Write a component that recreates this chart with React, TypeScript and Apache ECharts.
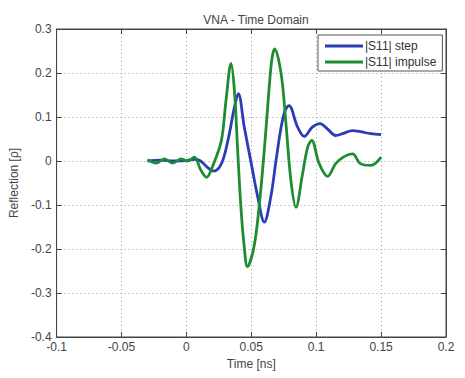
import React, { useEffect, useRef } from "react";
import * as echarts from "echarts";

const title = "VNA - Time Domain";
const xTicks = [-0.1, -0.05, 0, 0.05, 0.1, 0.15, 0.2];
const yTicks = [-0.4, -0.3, -0.2, -0.1, 0, 0.1, 0.2, 0.3];
const seriesNames = ["|S11| step", "|S11| impulse"];

const stepT = [-0.03, -0.02, -0.01, 0, 0.006, 0.011, 0.016, 0.021, 0.027, 0.032, 0.037, 0.040, 0.0446, 0.05, 0.055, 0.060, 0.065, 0.069, 0.073, 0.076, 0.079, 0.0857, 0.0908, 0.097, 0.103, 0.109, 0.115, 0.121, 0.128, 0.135, 0.142, 0.15];
const stepV = [0, 0.002, 0, 0.001, 0.004, 0, -0.014, -0.023, -0.006, 0.047, 0.122, 0.153, 0.077, -0.006, -0.082, -0.139, -0.082, 0, 0.077, 0.114, 0.126, 0.077, 0.056, 0.077, 0.085, 0.072, 0.058, 0.063, 0.069, 0.066, 0.062, 0.060];

const impulseT = [-0.0297, -0.0233, -0.0169, -0.0105, -0.0041, 0.001, 0.0062, 0.011, 0.0155, 0.021, 0.027, 0.0305, 0.0344, 0.037, 0.0395, 0.042, 0.0446, 0.047, 0.052, 0.056, 0.060, 0.0626, 0.0657, 0.068, 0.073, 0.0767, 0.0805, 0.0844, 0.0895, 0.0934, 0.0965, 0.1023, 0.1088, 0.115, 0.1215, 0.128, 0.134, 0.142, 0.15];
const impulseV = [0.003, -0.005, 0.005, -0.005, 0.005, 0, 0.009, -0.02, -0.037, -0.006, 0.047, 0.137, 0.222, 0.16, 0.024, -0.105, -0.196, -0.24, -0.196, -0.105, 0.024, 0.122, 0.228, 0.255, 0.198, 0.085, -0.044, -0.105, -0.029, 0.031, 0.047, -0.006, -0.035, -0.006, 0.01, 0.016, -0.006, -0.010, 0.009];

const colors = ["#2b3db5", "#1f8c32"];

export default function App() {
  const ref = useRef<HTMLDivElement>(null);
  useEffect(() => {
    document.body.style.margin = "0";
    const chart = echarts.init(ref.current!, null, { renderer: "svg" });
    const font = "Liberation Sans, Arial, sans-serif";
    const gridLine = { show: true, lineStyle: { color: "#9a9a9a", type: [1, 3] as any, width: 1 } };
    const axisLine = { show: true, onZero: false, lineStyle: { color: "#444", width: 1 } };
    const tick = { show: true, inside: true, length: 5, lineStyle: { color: "#444" } };
    chart.setOption({
      animation: false,
      backgroundColor: "#fff",
      title: {
        text: title,
        left: 251,
        textAlign: "center",
        top: 9,
        textStyle: { fontFamily: font, fontSize: 12, fontWeight: "normal", color: "#444" },
      },
      grid: { left: 56, right: 19, top: 29, bottom: 41, show: true, borderColor: "#444", borderWidth: 1 },
      legend: {
        orient: "vertical",
        left: 318,
        top: 35,
        padding: [5, 6, 3, 7],
        itemGap: 4,
        itemWidth: 38,
        itemHeight: 3,
        icon: "rect",
        borderColor: "#555",
        borderWidth: 1,
        backgroundColor: "#fff",
        textStyle: { fontFamily: font, fontSize: 12, color: "#333", padding: [0, 0, 0, -3] },
        data: seriesNames,
      },
      xAxis: [
        {
          type: "value",
          min: xTicks[0],
          max: xTicks[xTicks.length - 1],
          interval: 0.05,
          name: "Time [ns]",
          nameLocation: "middle",
          nameGap: 19,
          nameTextStyle: { fontFamily: font, fontSize: 12, color: "#444" },
          axisLine,
          axisTick: tick,
          splitLine: gridLine,
          axisLabel: { fontFamily: font, fontSize: 12, color: "#444", margin: 4, formatter: (v: number) => String(+v.toFixed(3)) },
        },
        {
          type: "value",
          position: "top",
          min: xTicks[0],
          max: xTicks[xTicks.length - 1],
          interval: 0.05,
          axisLine,
          axisTick: tick,
          splitLine: { show: false },
          axisLabel: { show: false },
        },
      ],
      yAxis: [
        {
          type: "value",
          min: yTicks[0],
          max: yTicks[yTicks.length - 1],
          interval: 0.1,
          name: "Reflection [ρ]",
          nameLocation: "middle",
          nameGap: 27,
          nameTextStyle: { fontFamily: font, fontSize: 12, color: "#444" },
          axisLine,
          axisTick: tick,
          splitLine: gridLine,
          axisLabel: { fontFamily: font, fontSize: 12, color: "#444", margin: 5, formatter: (v: number) => String(+v.toFixed(3)) },
        },
        {
          type: "value",
          position: "right",
          min: yTicks[0],
          max: yTicks[yTicks.length - 1],
          interval: 0.1,
          axisLine,
          axisTick: tick,
          splitLine: { show: false },
          axisLabel: { show: false },
        },
      ],
      series: [
        {
          name: seriesNames[0],
          type: "line",
          data: stepT.map((t, i) => [t, stepV[i]]),
          showSymbol: false,
          symbol: "none",
          smooth: 0.35,
          lineStyle: { color: colors[0], width: 2.8 },
          itemStyle: { color: colors[0] },
        },
        {
          name: seriesNames[1],
          type: "line",
          data: impulseT.map((t, i) => [t, impulseV[i]]),
          showSymbol: false,
          symbol: "none",
          smooth: 0.35,
          lineStyle: { color: colors[1], width: 2.8 },
          itemStyle: { color: colors[1] },
        },
      ],
    });
    return () => chart.dispose();
  }, []);
  return <div ref={ref} style={{ width: 465, height: 378 }} />;
}
